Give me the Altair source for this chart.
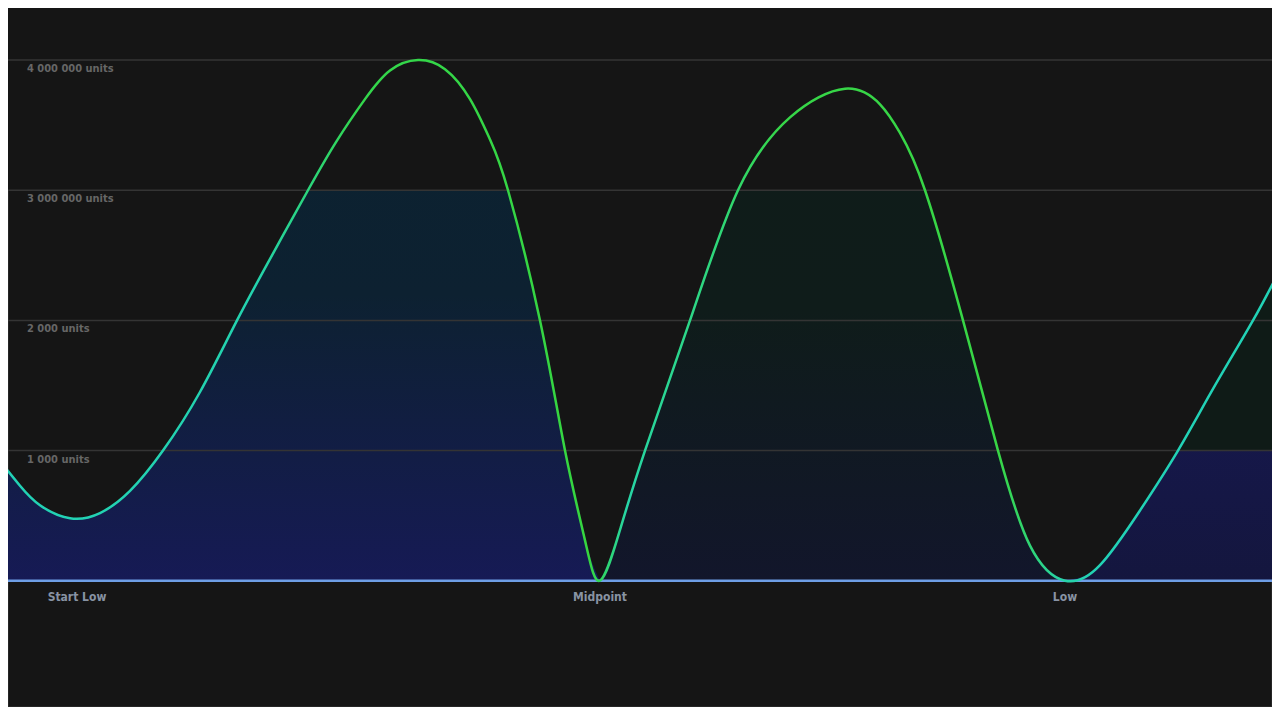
import altair as alt
import pandas as pd

# ---- data ----
t_vals = [0.0, 2.0, 4.0, 7.0, 10.0, 13.0, 16.3, 20.0, 23.7, 27.2, 30.8, 33.6, 36.5, 39.0,
          41.8, 44.5, 47.0, 49.0, 50.8, 54.0, 56.5, 58.5, 60.0, 62.0, 64.5, 69.0, 73.8,
          79.0, 84.5, 88.0, 90.0, 92.5, 96.3, 99.8, 103.0, 106.5, 110.0, 114.0,
          117.8, 121.5, 125.3, 128.0]
v_vals = [0.92, 0.73, 0.58, 0.48, 0.52, 0.69, 1.0, 1.45, 2.0, 2.5, 3.0, 3.37, 3.70, 3.92,
          4.0, 3.93, 3.70, 3.39, 3.0, 2.0, 1.0, 0.31, 0.0, 0.39, 1.0, 2.0, 3.0,
          3.56, 3.78, 3.66, 3.44, 3.0, 2.0, 1.0, 0.27, 0.0, 0.12, 0.54,
          1.0, 1.5, 2.0, 2.39]

# fill segments (start, end) and the level the shading stops at
seg_start = [0.0, 60.0, 106.5]
seg_end = [60.0, 106.5, 128.0]
seg_cap = [3, 3, 1]

grid_values = [1, 2, 3, 4]
baseline_value = [0]
y_label_values = [4, 3, 2, 1]
y_label_texts = ["4 000 000 units", "3 000 000 units", "2 000 units", "1 000 units"]

x_label_pos = [7.7, 60.0, 106.5]
x_label_texts = ["Start Low", "Midpoint", "Low"]

BG = "#151515"
Y_TOP = 4.4

df = pd.DataFrame({"t": t_vals, "v": v_vals})
mask_df = pd.DataFrame({"t0": seg_start, "t1": seg_end, "cap": seg_cap,
                        "top": [Y_TOP] * len(seg_cap)})
grid_df = pd.DataFrame({"g": grid_values})
base_df = pd.DataFrame({"g": baseline_value})
ylab_df = pd.DataFrame({"v": y_label_values, "label": y_label_texts})
xlab_df = pd.DataFrame({"t": x_label_pos, "label": x_label_texts})

xs = alt.Scale(domain=[0.8, 127.2], nice=False, zero=False)
ys = alt.Scale(domain=[-0.97, Y_TOP], nice=False, zero=False)

X = alt.X("t:Q", scale=xs, axis=None)
INTERP = "natural"


def vgrad(top, mid, bottom):
    return alt.Gradient(
        gradient="linear", x1=0, x2=0, y1=0, y2=1,
        stops=[alt.GradientStop(offset=0, color=top),
               alt.GradientStop(offset=0.45, color=mid),
               alt.GradientStop(offset=1, color=bottom)])


base = alt.Chart(df)


def seg_area(lo, hi, fill):
    return base.transform_filter(
        (alt.datum.t >= lo) & (alt.datum.t <= hi)
    ).transform_calculate(zero="0").mark_area(
        interpolate=INTERP, clip=True, fill=fill
    ).encode(x=X, y=alt.Y("v:Q", scale=ys, axis=None), y2="zero:Q")


area_a = seg_area(seg_start[0], seg_end[0], vgrad("#0b2230", "#0d2131", "#161a55"))
area_b = seg_area(seg_start[1], seg_end[1], vgrad("#0f1c19", "#0f1c1a", "#12162b"))
area_c = seg_area(seg_start[2], seg_end[2], vgrad("#16184c", "#16184c", "#14163e"))

mask = alt.Chart(mask_df).mark_rect(color=BG, clip=True).encode(
    x=alt.X("t0:Q", scale=xs, axis=None), x2="t1:Q",
    y=alt.Y("cap:Q", scale=ys, axis=None), y2="top:Q",
)

area_c2 = base.transform_filter(
    alt.datum.t >= 117.8
).transform_calculate(one="1").mark_area(
    interpolate=INTERP, clip=True, fill="#0f1b17"
).encode(x=X, y=alt.Y("v:Q", scale=ys, axis=None), y2="one:Q")

grid = alt.Chart(grid_df).mark_rule(color="#343434", strokeWidth=1.5).encode(
    y=alt.Y("g:Q", scale=ys, axis=None)
)

baseline = alt.Chart(base_df).mark_rule(color="#6e9ee6", strokeWidth=2.5).encode(
    y=alt.Y("g:Q", scale=ys, axis=None)
)

line_grad = alt.Gradient(
    gradient="linear", x1=0, x2=1, y1=0, y2=0,
    stops=[
        alt.GradientStop(offset=0.0, color="#22d2b6"),
        alt.GradientStop(offset=0.20, color="#24d3ae"),
        alt.GradientStop(offset=0.28, color="#33d64c"),
        alt.GradientStop(offset=0.46, color="#36d640"),
        alt.GradientStop(offset=0.49, color="#27d5a6"),
        alt.GradientStop(offset=0.56, color="#2fd77a"),
        alt.GradientStop(offset=0.61, color="#36d648"),
        alt.GradientStop(offset=0.78, color="#38d645"),
        alt.GradientStop(offset=0.83, color="#27d3a8"),
        alt.GradientStop(offset=0.86, color="#22d2b6"),
        alt.GradientStop(offset=1.0, color="#22d2b6"),
    ])

line = base.mark_line(
    interpolate=INTERP, clip=True, stroke=line_grad, strokeWidth=2.5
).encode(x=X, y=alt.Y("v:Q", scale=ys, axis=None))

ylabels = alt.Chart(ylab_df).mark_text(
    align="left", baseline="middle", dy=9, fontSize=11, fontWeight="bold",
    font="DejaVu Sans Condensed", color="#666666"
).encode(x=alt.value(19), y=alt.Y("v:Q", scale=ys, axis=None), text="label:N")

xlabels = alt.Chart(xlab_df).mark_text(
    align="center", baseline="middle", fontSize=12, fontWeight="bold",
    font="DejaVu Sans Condensed", color="#8893a3"
).encode(x=X, y=alt.value(589), text="label:N")

chart = alt.layer(
    area_a, area_b, area_c, mask, area_c2, grid, baseline, line, ylabels, xlabels
).properties(
    width=1264, height=699, padding=0, autosize=alt.AutoSizeParams(type="none"),
    background=BG
).configure_view(stroke="#2c2c2c", strokeWidth=1.5)

chart.save("out.html", embed_options={"renderer": "svg", "actions": False})
